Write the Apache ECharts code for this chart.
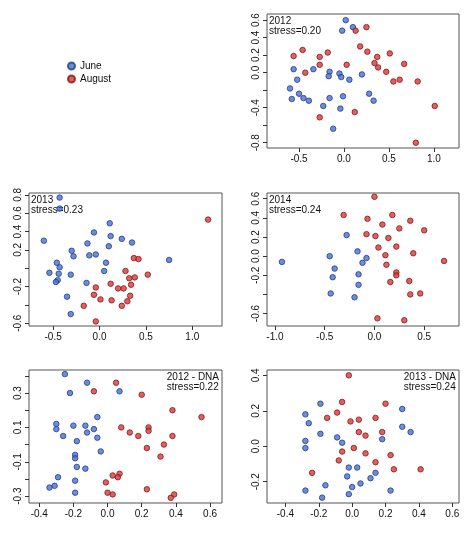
<!DOCTYPE html>
<html>
<head>
<meta charset="utf-8">
<script src="https://cdn.jsdelivr.net/npm/echarts@6/dist/echarts.min.js"></script>
<style>html,body{margin:0;padding:0;background:#fff}#main{width:474px;height:533px}</style>
</head>
<body>
<div id="main"></div>
<script>
// NMDS ordinations, [x, y] per sample
const june2012 = [[0.02,0.60],[0.10,0.52],[-0.02,0.48],[-0.56,0.04],[-0.34,0.04],[-0.16,0.01],[-0.17,-0.04],[-0.05,-0.01],[-0.03,-0.05],[0.06,-0.08],[0.20,-0.02],[-0.52,-0.08],[-0.60,-0.18],[-0.50,-0.24],[-0.58,-0.30],[-0.45,-0.29],[-0.39,-0.32],[-0.16,-0.29],[-0.01,-0.27],[-0.23,-0.38],[-0.04,-0.41],[-0.12,-0.64],[0.28,-0.24],[0.33,-0.32]];
const aug2012 = [[0.13,0.48],[0.25,0.52],[0.18,0.30],[0.26,0.24],[-0.46,0.26],[-0.56,0.19],[-0.27,0.18],[-0.18,0.23],[-0.27,0.09],[-0.43,0.00],[0.03,0.09],[0.37,0.18],[0.51,0.22],[0.34,0.11],[0.38,0.06],[0.47,0.01],[0.67,0.10],[0.55,-0.10],[0.62,-0.08],[0.82,-0.10],[1.01,-0.38],[0.12,-0.45],[-0.27,-0.51],[0.80,-0.80]];
const june2013 = [[-0.43,0.77],[-0.43,0.65],[0.11,0.49],[-0.06,0.39],[-0.60,0.30],[-0.13,0.27],[0.12,0.35],[0.24,0.32],[0.35,0.28],[0.10,0.24],[-0.30,0.19],[-0.28,0.13],[-0.11,0.14],[-0.04,0.15],[-0.46,0.06],[-0.43,0.01],[-0.54,-0.05],[-0.44,-0.06],[0.07,0.06],[0.05,-0.03],[-0.31,-0.07],[-0.45,-0.13],[-0.47,-0.15],[-0.14,-0.16],[-0.35,-0.31],[-0.31,-0.50],[0.75,0.09]];
const aug2013 = [[1.17,0.53],[0.37,0.11],[0.42,0.10],[0.28,-0.03],[0.32,-0.11],[0.38,-0.10],[0.52,-0.07],[0.12,-0.17],[0.34,-0.18],[0.20,-0.22],[0.26,-0.22],[-0.04,-0.21],[-0.06,-0.29],[0.01,-0.34],[0.13,-0.35],[0.33,-0.30],[0.30,-0.36],[0.24,-0.41],[-0.17,-0.41],[-0.04,-0.58]];
const june2014 = [[-0.93,-0.06],[-0.28,0.22],[-0.45,0.00],[-0.17,0.05],[-0.08,-0.02],[-0.12,-0.07],[-0.40,-0.13],[-0.16,-0.19],[-0.42,-0.22],[-0.16,-0.30],[-0.44,-0.39],[-0.20,-0.43]];
const aug2014 = [[0.00,0.62],[-0.31,0.43],[-0.07,0.39],[0.18,0.43],[0.36,0.37],[0.08,0.33],[0.25,0.29],[0.50,0.27],[-0.08,0.23],[0.01,0.21],[0.14,0.19],[0.04,0.09],[0.22,0.10],[0.39,0.03],[0.11,0.01],[0.12,-0.09],[0.70,-0.05],[0.22,-0.17],[0.22,-0.20],[0.16,-0.27],[0.35,-0.26],[0.36,-0.40],[0.46,-0.39],[0.03,-0.65],[0.30,-0.67]];
const juneDna2012 = [[-0.25,0.41],[-0.12,0.36],[-0.22,0.30],[0.07,0.31],[-0.06,0.16],[-0.30,0.12],[-0.20,0.11],[-0.30,0.09],[-0.13,0.11],[-0.08,0.09],[-0.12,0.07],[-0.26,0.05],[-0.06,0.04],[-0.18,0.02],[-0.04,-0.04],[-0.19,-0.06],[-0.19,-0.08],[-0.18,-0.13],[-0.13,-0.14],[-0.29,-0.19],[-0.19,-0.21],[-0.31,-0.24],[-0.34,-0.25],[-0.19,-0.28]];
const augDna2012 = [[0.05,0.36],[-0.08,0.31],[0.20,0.29],[0.38,0.20],[0.55,0.16],[0.08,0.10],[0.24,0.10],[0.24,0.08],[0.13,0.07],[0.18,0.05],[0.38,0.05],[0.23,-0.02],[0.33,0.00],[0.31,-0.07],[0.03,-0.18],[0.07,-0.17],[0.06,-0.19],[-0.01,-0.22],[0.23,-0.26],[0.00,-0.28],[0.03,-0.29],[0.39,-0.29],[0.37,-0.31]];
const juneDna2013 = [[-0.19,0.24],[-0.28,0.18],[-0.26,0.13],[0.30,0.21],[0.30,0.11],[0.35,0.08],[-0.19,0.07],[-0.09,0.05],[-0.06,0.02],[-0.28,0.03],[0.18,0.04],[-0.28,-0.01],[-0.02,-0.12],[0.03,-0.12],[-0.03,-0.17],[0.14,-0.15],[0.11,-0.18],[0.05,-0.21],[0.00,-0.23],[-0.16,-0.22],[-0.28,-0.25],[0.23,-0.25],[-0.02,-0.27],[-0.18,-0.29]];
const augDna2013 = [[-0.02,0.40],[-0.06,0.25],[0.20,0.24],[-0.09,0.19],[-0.15,0.16],[-0.01,0.14],[0.04,0.15],[0.14,0.16],[0.04,0.08],[0.08,0.06],[0.18,0.08],[0.01,-0.01],[-0.06,-0.03],[0.08,-0.04],[0.23,-0.05],[-0.08,-0.08],[0.14,-0.09],[0.25,-0.13],[0.41,-0.13],[-0.24,-0.15]];

const panelLabels = ['2012\nstress=0.20', '2013\nstress=0.23', '2014\nstress=0.24', '2012 - DNA\nstress=0.22', '2013 - DNA\nstress=0.24'];
const xTicks = [[-0.5,0,0.5,1.0],[-0.5,0,0.5,1.0],[-1.0,-0.5,0,0.5],[-0.4,-0.2,0,0.2,0.4,0.6],[-0.4,-0.2,0,0.2,0.4,0.6]];
const yTicks = [[-0.8,-0.6,-0.4,-0.2,0,0.2,0.4,0.6],[-0.6,-0.4,-0.2,0,0.2,0.4,0.6,0.8],[-0.6,-0.4,-0.2,0,0.2,0.4,0.6],[-0.3,-0.2,-0.1,0,0.1,0.2,0.3,0.4],[-0.2,0,0.2,0.4]];
const yLabels = [[-0.8,-0.4,0,0.2,0.4,0.6],[-0.6,-0.2,0.2,0.4,0.6,0.8],[-0.6,-0.2,0,0.2,0.4,0.6],[-0.3,-0.1,0.1,0.3],[-0.2,0,0.2,0.4]];

const juneSets = [june2012, june2013, june2014, juneDna2012, juneDna2013];
const augSets = [aug2012, aug2013, aug2014, augDna2012, augDna2013];

// layout of the five boxes (px) and their data ranges
const boxes = [
  {left: 267, top: 14, width: 192, height: 134, x: [-0.856, 1.28], y: [-0.86, 0.67], tl: true},
  {left: 29, top: 193, width: 193, height: 133, x: [-0.76, 1.32], y: [-0.63, 0.82], tl: true},
  {left: 267, top: 193, width: 192, height: 133, x: [-1.08, 0.85], y: [-0.73, 0.66], tl: true},
  {left: 29, top: 370, width: 193, height: 133, x: [-0.46, 0.67], y: [-0.34, 0.434], tl: false},
  {left: 267, top: 370, width: 192, height: 133, x: [-0.51, 0.64], y: [-0.32, 0.43], tl: false}
];

const fmt = v => (Math.abs(v) < 1e-9 ? 0 : v).toFixed(1);
const labelFont = {fontFamily: 'Arial, Liberation Sans', fontSize: 10, color: '#111'};

const grid = [], xAxis = [], yAxis = [], series = [], graphic = [];
boxes.forEach((b, i) => {
  grid.push({left: b.left, top: b.top, width: b.width, height: b.height, show: true, borderColor: '#555', borderWidth: 1});
  xAxis.push({
    type: 'value', gridIndex: i, min: b.x[0], max: b.x[1], splitLine: {show: false},
    position: 'bottom',
    axisLine: {show: false, onZero: false},
    axisTick: {show: true, length: 4, lineStyle: {color: '#333'}, customValues: xTicks[i]},
    axisLabel: Object.assign({customValues: xTicks[i], formatter: fmt, margin: 6}, labelFont)
  });
  yAxis.push({
    type: 'value', gridIndex: i, min: b.y[0], max: b.y[1], splitLine: {show: false},
    position: 'left',
    axisLine: {show: false, onZero: false},
    axisTick: {show: true, length: 4, lineStyle: {color: '#333'}, customValues: yTicks[i]},
    axisLabel: Object.assign({customValues: yLabels[i], formatter: fmt, rotate: 90, margin: 6}, labelFont)
  });
  [['June', juneSets[i], '#4a70cf', '#1e3c8c'], ['August', augSets[i], '#d63a3a', '#8a1414']].forEach(([name, data, c, bc]) => {
    series.push({
      name: name, type: 'scatter', xAxisIndex: i, yAxisIndex: i, data: data,
      symbolSize: 5.5, itemStyle: {color: c, borderColor: bc, borderWidth: 1}
    });
  });
  graphic.push({
    type: 'text',
    left: b.tl ? b.left + 2 : undefined,
    right: b.tl ? undefined : 474 - (b.left + b.width) + 3,
    top: b.top + 2,
    style: {text: panelLabels[i], font: '10px Arial, Liberation Sans', fill: '#111', lineHeight: 10, align: b.tl ? 'left' : 'right'}
  });
});

const chart = echarts.init(document.getElementById('main'));
chart.setOption({
  animation: false,
  grid: grid, xAxis: xAxis, yAxis: yAxis, series: series, graphic: graphic,
  legend: {
    data: ['June', 'August'], orient: 'vertical', left: 62, top: 56,
    itemWidth: 7, itemHeight: 7, itemGap: 3, icon: 'circle',
    textStyle: {fontFamily: 'Arial, Liberation Sans', fontSize: 10, color: '#111'}
  }
});
</script>
</body>
</html>
